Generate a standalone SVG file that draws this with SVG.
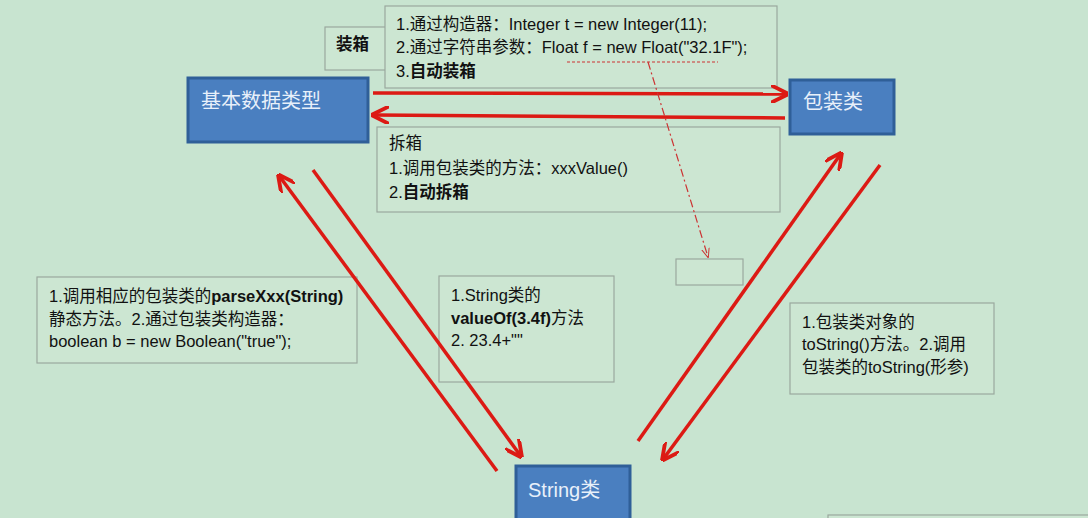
<svg xmlns="http://www.w3.org/2000/svg" width="1088" height="518" viewBox="0 0 1088 518">
<style>
.t{font-family:"Liberation Sans","Noto Sans CJK SC",sans-serif;font-size:16.5px;fill:#111}
.b{font-weight:bold}
.box{fill:#cce6d2;stroke:#9aa89e;stroke-width:1.2}
.node{fill:#4a7fc0;stroke:#2f5f98;stroke-width:3}
.nt{font-family:"Liberation Sans","Noto Sans CJK SC",sans-serif;font-size:20px;fill:#e8f0fa}
.a{stroke:#dc1a14;stroke-width:3.5;fill:none;marker-end:url(#ah)}
</style>
<defs>
<marker id="ah" viewBox="0 0 10 10" refX="8" refY="5" markerWidth="5" markerHeight="5" orient="auto"><path d="M0,0 L10,5 L0,10" fill="none" stroke="#dc1a14" stroke-width="2.2"/></marker>
<marker id="ah2" viewBox="0 0 10 10" refX="9" refY="5" markerWidth="8" markerHeight="8" orient="auto"><path d="M0,1 L10,5 L0,9" fill="none" stroke="#cc3333" stroke-width="1"/></marker>
</defs>
<rect width="1088" height="518" fill="#c8e4d0"/>
<g id="box-zhuangxiang-label"><rect class="box" x="325" y="27" width="61" height="43"/><text class="t b" x="336" y="50">装箱</text></g>
<g id="box-boxing"><rect class="box" x="385" y="6" width="392" height="82"/>
<text class="t" x="396" y="30">1.通过构造器：Integer t = new Integer(11);</text>
<text class="t" x="396" y="53">2.通过字符串参数：Float f = new Float("32.1F");</text>
<text class="t" x="396" y="77">3.<tspan class="b">自动装箱</tspan></text></g>
<g id="box-unboxing"><rect class="box" x="377" y="127" width="403" height="85"/>
<text class="t" x="389" y="149">拆箱</text>
<text class="t" x="389" y="174">1.调用包装类的方法：xxxValue()</text>
<text class="t" x="389" y="198">2.<tspan class="b">自动拆箱</tspan></text></g>
<g id="box-small"><rect class="box" x="676" y="259" width="67" height="26"/></g>
<g id="box-left"><rect class="box" x="37" y="277" width="320" height="86"/>
<text class="t" x="49" y="302">1.调用相应的包装类的<tspan class="b">parseXxx(String)</tspan></text>
<text class="t" x="49" y="325">静态方法。2.通过包装类构造器：</text>
<text class="t" x="49" y="347">boolean b = new Boolean("true");</text></g>
<g id="box-mid"><rect class="box" x="439" y="276" width="175" height="106"/>
<text class="t" x="451" y="301">1.String类的</text>
<text class="t b" x="451" y="324">valueOf(3.4f)<tspan font-weight="normal">方法</tspan></text>
<text class="t" x="451" y="346">2. 23.4+""</text></g>
<g id="box-right"><rect class="box" x="790" y="303" width="204" height="91"/>
<text class="t" x="802" y="328">1.包装类对象的</text>
<text class="t" x="802" y="350">toString()方法。2.调用</text>
<text class="t" x="802" y="373">包装类的toString(形参)</text></g>
<g id="box-corner"><rect class="box" x="828" y="515" width="280" height="30"/></g>
<g id="node-basic"><rect class="node" x="188" y="78" width="180" height="64"/><text class="nt" x="201" y="108">基本数据类型</text></g>
<g id="node-wrapper"><rect class="node" x="790" y="80" width="104" height="54"/><text class="nt" x="803" y="109">包装类</text></g>
<g id="node-string"><rect class="node" x="516" y="466" width="114" height="54"/><text class="nt" x="528" y="497">String类</text></g>
<g id="connectors">
<path class="a" d="M373,93 L785,94"/>
<path class="a" d="M785,118 L375,115"/>
<path class="a" d="M497,471 L280,177"/>
<path class="a" d="M313,170 L520,455"/>
<path class="a" d="M638,441 L840,155"/>
<path class="a" d="M880,165 L664,458"/>
<path d="M567,62 L718,62" stroke="#cc3333" stroke-width="1.2" stroke-dasharray="3,2"/>
<path d="M648,62 L708,257" stroke="#cc3333" stroke-width="1.2" stroke-dasharray="8,3,2,3" fill="none" marker-end="url(#ah2)"/>
</g>
</svg>
